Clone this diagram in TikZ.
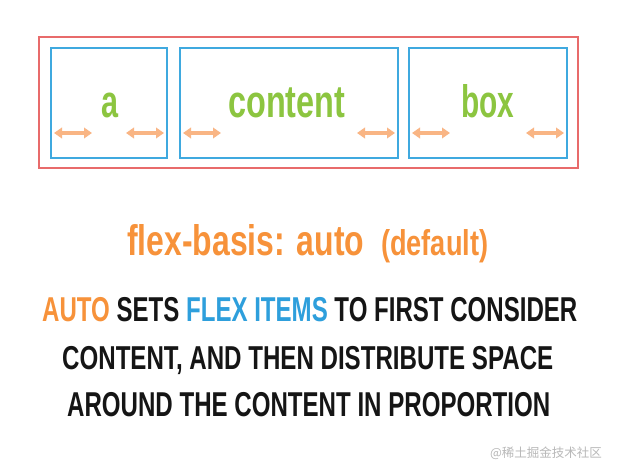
\documentclass[tikz,border=0pt]{standalone}
\usepackage{fontspec}
\setmainfont{Liberation Sans}
\newfontfamily\cjk{Noto Sans CJK SC}
\usetikzlibrary{arrows.meta}
\definecolor{redc}{HTML}{E86B6B}
\definecolor{bluec}{HTML}{3FA9DF}
\definecolor{greenc}{HTML}{8CC540}
\definecolor{arrowc}{HTML}{F9B584}
\definecolor{orangec}{HTML}{F7923A}
\definecolor{bluetxt}{HTML}{2E9FDC}
\definecolor{inkc}{HTML}{151515}
\definecolor{markc}{HTML}{B8B8B8}
\newcommand{\fitbox}[3]{\resizebox{#1}{#2}{\vphantom{Hb}#3}}
\tikzset{
  outerbox/.style={draw=redc, line width=2pt, inner sep=0pt, minimum width=539pt, minimum height=131pt},
  itembox/.style={draw=bluec, line width=2pt, inner sep=0pt, minimum height=110pt},
  hdarrow/.style={draw=arrowc, line width=3.3pt, {Triangle[width=10.5pt,length=8pt]}-{Triangle[width=10.5pt,length=8pt]}},
  word/.style={inner sep=0pt, anchor=base west, font=\bfseries},
}
\begin{document}
\begin{tikzpicture}[x=1pt,y=1pt]
\useasboundingbox[fill=white] (0,0) rectangle (619,474);
% boxes
\node[outerbox] (outer) at (308.5,371.5) {};
\node[itembox, minimum width=116pt] (b1) at (109,371) {};
\node[itembox, minimum width=218pt] (b2) at (289,371) {};
\node[itembox, minimum width=158pt] (b3) at (488,371) {};
% arrows
\draw[hdarrow] ([shift={(4,26)}]b1.south west) -- ++(38,0);
\draw[hdarrow] ([shift={(-4,26)}]b1.south east) -- ++(-38,0);
\draw[hdarrow] ([shift={(4,26)}]b2.south west) -- ++(38,0);
\draw[hdarrow] ([shift={(-4,26)}]b2.south east) -- ++(-38,0);
\draw[hdarrow] ([shift={(4,26)}]b3.south west) -- ++(38,0);
\draw[hdarrow] ([shift={(-4,26)}]b3.south east) -- ++(-38,0);
% green words
\node[word, text=greenc] (ta) at (101,356) {\fitbox{17pt}{33pt}{a}};
\node[word, text=greenc] (tc) at (228,356) {\fitbox{117pt}{33pt}{content}};
\node[word, text=greenc] (tb) at (461,356) {\fitbox{53pt}{33pt}{box}};
% orange title
\node[word, text=orangec] (t1) at (127,218) {\fitbox{237pt}{31pt}{flex-basis: auto}};
\node[word, text=orangec] (t2) at (381,218) {\fitbox{107pt}{26pt}{(default)}};
% body text
\node[word, text=inkc] (l1) at (42,152) {\fitbox{535pt}{25pt}{\textcolor{orangec}{AUTO} SETS \textcolor{bluetxt}{FLEX ITEMS} TO FIRST CONSIDER}};
\node[word, text=inkc] (l2) at (62,104) {\fitbox{491pt}{24pt}{CONTENT, AND THEN DISTRIBUTE SPACE}};
\node[word, text=inkc] (l3) at (67,57) {\fitbox{483pt}{25pt}{AROUND THE CONTENT IN PROPORTION}};
% watermark
\node[inner sep=0pt, text=markc, font=\cjk\fontsize{12.5}{14}\selectfont] (wm) at (546,21) {@稀土掘金技术社区};
\end{tikzpicture}
\end{document}
